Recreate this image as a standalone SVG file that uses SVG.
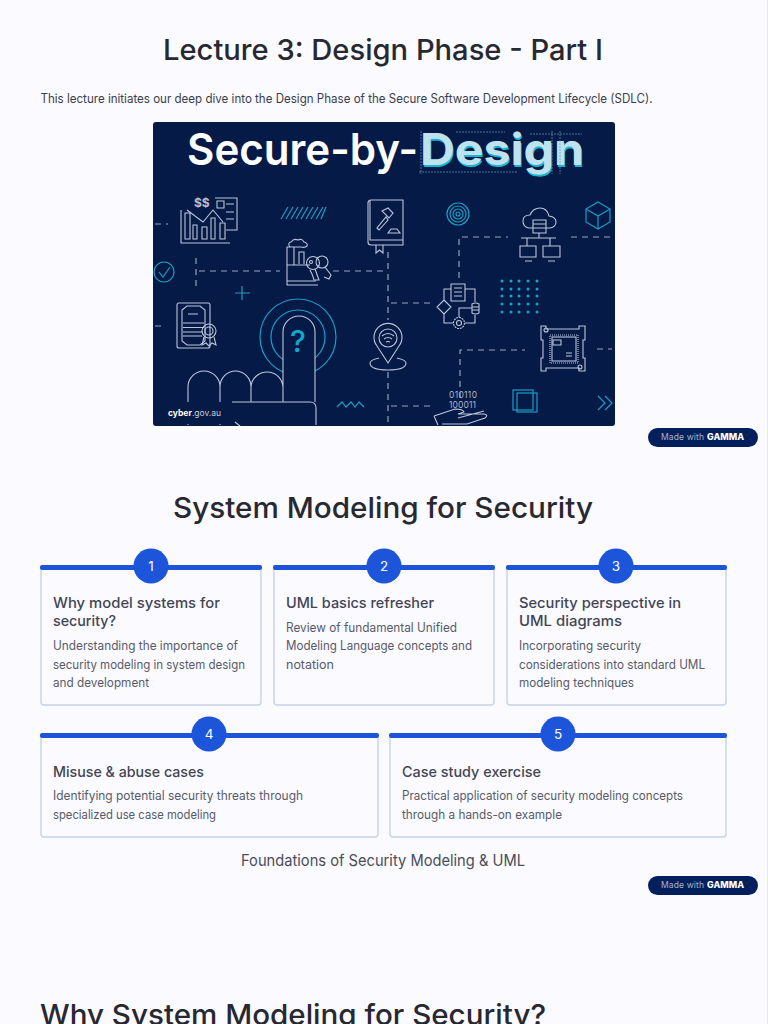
<svg xmlns="http://www.w3.org/2000/svg" width="768" height="1024" viewBox="0 0 768 1024">
<style>
text{font-family:"Inter","Noto Sans","Liberation Sans",sans-serif}
.h1{font-size:29px;fill:#272831;text-anchor:middle;font-weight:500}
.t{font-size:14.5px;fill:#434554;font-weight:500}
.b{font-size:12.6px;fill:#585a69}
.n{font-size:13.5px;fill:#fff;text-anchor:middle}
.card{fill:#fafaff;stroke:#c6d2e8;stroke-width:1.4}
.bar{fill:#1c55d9}
.wl{fill:none;stroke:#bcc5d8;stroke-width:1.1}
.wd{fill:none;stroke:#98a3bb;stroke-width:1.2;stroke-dasharray:6 5}
.tl{fill:none;stroke:#1a9ec4;stroke-width:1.2}
.badge{fill:#03205c}
.bt{font-size:8.5px;fill:#aab3c8}
.bg{font-size:8.5px;fill:#fff;font-weight:800}
</style>
<rect width="768" height="1024" fill="#fafaff"/>
<rect x="767" width="1" height="1024" fill="#e8e8ef"/>
<text class="h1" x="383" y="60" textLength="440" lengthAdjust="spacingAndGlyphs">Lecture 3: Design Phase - Part I</text>
<text x="40.500" y="103" font-size="12.5" fill="#3c3e4c" textLength="612" lengthAdjust="spacingAndGlyphs">This lecture initiates our deep dive into the Design Phase of the Secure Software Development Lifecycle (SDLC).</text>
<g id="poster">
<rect x="153" y="122" width="462" height="304" rx="3" fill="#051a47"/>
<text x="187" y="165" font-size="44" font-weight="600" fill="#fff" textLength="231" lengthAdjust="spacingAndGlyphs">Secure-by-</text>
<text x="421" y="167" font-size="44" font-weight="700" fill="#19b5d2" textLength="164" lengthAdjust="spacingAndGlyphs">Design</text>
<text x="420" y="165" font-size="44" font-weight="700" fill="#bfe3ec" textLength="164" lengthAdjust="spacingAndGlyphs">Design</text>
<path d="M421 131V174M419 172H518M456 132H505M552 131V174M560 131V174M530 134H582" fill="none" stroke="#5f9fc0" stroke-width=".7" stroke-dasharray="2 1"/>
<path class="wd" d="M155 224H168M196 258V288M199 271H280M333 271H388M388 252V320M388 372V425M391 303H430M391 406H430M459 278V237H508M571 237H611M460 398V350H525M597 349H612M155 326H166"/>
<!-- chart -->
<path class="wl" d="M181 210V243H230M185 213V239H190V213ZM193 225V239H197V225ZM202 227V239H207V227ZM211 218V239H215V218ZM220 223V239H225V223ZM187 210L203 222L213 210L223 222M215 198H237V230H226M217 201H224V208H217ZM226 204H234M226 212H234M226 219H234"/>
<text x="194" y="207" font-size="12" font-weight="700" fill="#b4bed2">$$</text>
<!-- hatch -->
<path class="tl" stroke-width="1.4" d="M281 219L288 207M286 219L293 207M291 219L298 207M296 219L303 207M301 219L308 207M306 219L313 207M311 219L318 207M316 219L323 207M321 219L326 207"/>
<!-- check -->
<circle class="tl" cx="164" cy="272" r="10"/><path class="tl" d="M159 272L163 277L170 267"/>
<!-- factory -->
<path class="wl" d="M287 265V247H294V265M299 264V252H304V264M287 265H310M287 265V285H318M287 281H316M290 247q-3-4 1-5q3-4 7-2q4-2 6 2q4 1 3 4q-2 2-6 1h-9"/>
<circle class="wl" cx="322" cy="262" r="6"/><path class="wl" d="M325 267L331 275L329 279L324 277"/>
<circle class="wl" cx="313" cy="263" r="6.500" fill="#051a47"/><circle class="wl" cx="311" cy="262" r="1.500"/><path class="wl" d="M315 269L319 280H314L312 274L310 270"/>
<!-- book -->
<path class="wl" d="M368 203q0-3 3-3H403V245H371q-3 0-3-3ZM370 200V240H403M376 245V253L379.500 250L383 253V245"/>
<path class="wl" d="M377 228L379 230L388 220L386 217ZM382 211L388 208L393 213L389 218ZM388 233H400L397 229H391Z"/>
<!-- bullseye -->
<circle class="tl" cx="458" cy="214" r="11"/><circle class="tl" cx="458" cy="214" r="8"/><circle class="tl" cx="458" cy="214" r="5"/><circle class="tl" cx="458" cy="214" r="2"/>
<!-- cloud -->
<path class="wl" d="M529 228q-6-1-6-7t7-6q3-7 10-7t9 8q7 1 7 6t-6 6h-21ZM533 220H546V233H533ZM533 224H546M533 228H546M539 233V238M521 238H556M527 238V246M550 238V246M520 246H536V257H520ZM543 246H560V257H543ZM525 261H532M548 261H555"/>
<!-- cube -->
<path class="tl" d="M598 202L610 209V222L598 229L586 222V209ZM586 209L598 216L610 209M598 216V229"/>
<!-- certificate -->
<path class="wl" d="M177 305q0-2 2-2H208q2 0 2 2V346q0 2-2 2H179q-2 0-2-2ZM182 310L187 306H200L205 310V341L200 345H187L182 341ZM188 314H198M183 323H204M183 327.500H204M183 332H203M183 336H202"/>
<circle class="wl" cx="209" cy="331" r="7" fill="#051a47"/><circle class="wl" cx="209" cy="331" r="4"/><path class="wl" d="M204 337L202 345L206 343L209 346L212 343L216 345L214 337"/>
<!-- plus -->
<path class="tl" d="M242 286V300M235 293H250"/>
<!-- finger -->
<circle class="tl" cx="298" cy="337" r="38"/><circle class="tl" cx="298" cy="337" r="27"/>
<path d="M283 408V332a16 16 0 0 1 32 0V408Z" fill="#051a47" stroke="none"/>
<path class="wl" stroke-width="1.400" d="M188 402V387a16 16 0 0 1 32 0V402M220 387a15.500 16 0 0 1 31 0V402M251 387a16 16 0 0 1 32 2V402M283 402V332a16 16 0 0 1 32 0V402M232 402H310q6 0 6 6V425M188 425V424M220 425V424M235 422L240 426"/>
<text x="298" y="352" font-size="30" font-weight="500" fill="#12a7cd" text-anchor="middle">?</text>
<text x="168" y="416" font-size="8.500" font-weight="700" fill="#fff">cyber<tspan font-weight="400" fill="#c8cfdc">.gov.au</tspan></text>
<path class="tl" d="M337 407L342 402L346 407L351 402L355 407L359 402L364 407"/>
<!-- pin -->
<path class="wl" d="M379 358q-9 2-9 5q0 7 18 7t18-7q0-3-9-5"/><path class="wl" d="M388 363L377 346a14 14 0 1 1 22 0Z" fill="#051a47"/><circle class="wl" cx="388" cy="338" r="9"/><path class="wl" d="M382 336q6-5 12 0M384 339q4-3 8 0M386 342q2-1 4 0"/>
<!-- workflow -->
<path class="wl" d="M451 284H465V301H451ZM454 288H462M454 292H462M454 296H462M451 289H444V300M465 289H475V302M472 304q3.500-2 7 0V313q-3.500 2-7 0ZM472 307H479M472 310H479M444 300L451 307L444 314L437 307ZM444 314V323H453M465 323H475V315M459 317V308H472"/>
<circle class="wl" cx="459" cy="323" r="5.500" stroke-dasharray="2 .8"/><circle class="wl" cx="459" cy="323" r="2.500"/>
<!-- dots -->
<g fill="#14a5c4"><circle cx="502" cy="281" r="1.500"/><circle cx="511" cy="281" r="1.500"/><circle cx="519" cy="281" r="1.500"/><circle cx="528" cy="281" r="1.500"/><circle cx="537" cy="281" r="1.500"/><circle cx="502" cy="289" r="1.500"/><circle cx="511" cy="289" r="1.500"/><circle cx="519" cy="289" r="1.500"/><circle cx="528" cy="289" r="1.500"/><circle cx="537" cy="289" r="1.500"/><circle cx="502" cy="296" r="1.500"/><circle cx="511" cy="296" r="1.500"/><circle cx="519" cy="296" r="1.500"/><circle cx="528" cy="296" r="1.500"/><circle cx="537" cy="296" r="1.500"/><circle cx="502" cy="304" r="1.500"/><circle cx="511" cy="304" r="1.500"/><circle cx="519" cy="304" r="1.500"/><circle cx="528" cy="304" r="1.500"/><circle cx="537" cy="304" r="1.500"/><circle cx="502" cy="312" r="1.500"/><circle cx="511" cy="312" r="1.500"/><circle cx="519" cy="312" r="1.500"/><circle cx="528" cy="312" r="1.500"/><circle cx="537" cy="312" r="1.500"/></g>
<!-- chip -->
<path class="wl" d="M541 326H546V329H579V326H585V340H583V358H585V371H579V368H546V371H541V358H543V340H541Z"/>
<rect class="wl" x="550" y="335" width="28" height="28" stroke-width="1.600" stroke-dasharray="1 1"/><rect class="wl" x="552" y="337" width="24" height="24"/><path class="wl" d="M553 340H561V345H553ZM566 356H572M566 353H572"/>
<circle class="wl" cx="546" cy="330" r="2"/><circle class="wl" cx="580" cy="367" r="2"/>
<!-- binary -->
<text x="449" y="398" font-size="8.500" fill="#a9b5cb" textLength="28">010110</text>
<text x="449" y="408" font-size="8.500" fill="#a9b5cb" textLength="27">100011</text>
<path class="wl" d="M434 416L455 409q8 0 9 3l-6 2h14l12 0q5 1 1 4l-18 6H442M438 425L434 416M458 418L484 411"/>
<!-- squares -->
<rect class="tl" x="513" y="390" width="20" height="20"/><rect class="tl" x="517" y="393" width="20" height="19"/>
<path class="tl" d="M598 396L605 403L598 410M605 396L612 403L605 410"/>
</g>
<g id="badge1"><rect class="badge" x="648" y="428" width="110" height="19" rx="9.500"/><text class="bt" x="661" y="440" textLength="43">Made with</text><text class="bg" x="707" y="440" textLength="37" lengthAdjust="spacingAndGlyphs">GAMMA</text></g>
<text class="h1" x="383" y="518" textLength="420" lengthAdjust="spacingAndGlyphs">System Modeling for Security</text>
<g id="card1"><rect class="card" x="41" y="566" width="220" height="139" rx="3"/><rect class="bar" x="40" y="565" width="222" height="5" rx="2"/><circle class="bar" cx="151" cy="566" r="17.500"/><text class="n" x="151" y="571">1</text>
<text class="t" x="53" y="608" textLength="167" lengthAdjust="spacingAndGlyphs">Why model systems for</text><text class="t" x="53" y="626" textLength="63" lengthAdjust="spacingAndGlyphs">security?</text>
<text class="b" x="53" y="650" textLength="185" lengthAdjust="spacingAndGlyphs">Understanding the importance of</text><text class="b" x="53" y="669" textLength="192" lengthAdjust="spacingAndGlyphs">security modeling in system design</text><text class="b" x="53" y="687" textLength="96" lengthAdjust="spacingAndGlyphs">and development</text></g>
<g id="card2"><rect class="card" x="274" y="566" width="220" height="139" rx="3"/><rect class="bar" x="273" y="565" width="222" height="5" rx="2"/><circle class="bar" cx="384" cy="566" r="17.500"/><text class="n" x="384" y="571">2</text>
<text class="t" x="286" y="608" textLength="148" lengthAdjust="spacingAndGlyphs">UML basics refresher</text>
<text class="b" x="286" y="632" textLength="171" lengthAdjust="spacingAndGlyphs">Review of fundamental Unified</text><text class="b" x="286" y="650" textLength="186" lengthAdjust="spacingAndGlyphs">Modeling Language concepts and</text><text class="b" x="286" y="669" textLength="48" lengthAdjust="spacingAndGlyphs">notation</text></g>
<g id="card3"><rect class="card" x="507" y="566" width="219" height="139" rx="3"/><rect class="bar" x="506" y="565" width="221" height="5" rx="2"/><circle class="bar" cx="616" cy="566" r="17.500"/><text class="n" x="616" y="571">3</text>
<text class="t" x="519" y="608" textLength="162" lengthAdjust="spacingAndGlyphs">Security perspective in</text><text class="t" x="519" y="626" textLength="103" lengthAdjust="spacingAndGlyphs">UML diagrams</text>
<text class="b" x="519" y="650" textLength="122" lengthAdjust="spacingAndGlyphs">Incorporating security</text><text class="b" x="519" y="669" textLength="186" lengthAdjust="spacingAndGlyphs">considerations into standard UML</text><text class="b" x="519" y="687" textLength="115" lengthAdjust="spacingAndGlyphs">modeling techniques</text></g>
<g id="card4"><rect class="card" x="41" y="734" width="337" height="103" rx="3"/><rect class="bar" x="40" y="733" width="339" height="5" rx="2"/><circle class="bar" cx="209" cy="734" r="17.500"/><text class="n" x="209" y="739">4</text>
<text class="t" x="53" y="777" textLength="151" lengthAdjust="spacingAndGlyphs">Misuse &amp; abuse cases</text>
<text class="b" x="53" y="800" textLength="250" lengthAdjust="spacingAndGlyphs">Identifying potential security threats through</text><text class="b" x="53" y="819" textLength="163" lengthAdjust="spacingAndGlyphs">specialized use case modeling</text></g>
<g id="card5"><rect class="card" x="390" y="734" width="336" height="103" rx="3"/><rect class="bar" x="389" y="733" width="338" height="5" rx="2"/><circle class="bar" cx="558" cy="734" r="17.500"/><text class="n" x="558" y="739">5</text>
<text class="t" x="402" y="777" textLength="139" lengthAdjust="spacingAndGlyphs">Case study exercise</text>
<text class="b" x="402" y="800" textLength="281" lengthAdjust="spacingAndGlyphs">Practical application of security modeling concepts</text><text class="b" x="402" y="819" textLength="160" lengthAdjust="spacingAndGlyphs">through a hands-on example</text></g>
<text x="383" y="866" font-size="15.500" fill="#4a4c5a" text-anchor="middle" textLength="284" lengthAdjust="spacingAndGlyphs">Foundations of Security Modeling &amp; UML</text>
<g id="badge2"><rect class="badge" x="648" y="876" width="110" height="19" rx="9.500"/><text class="bt" x="661" y="888" textLength="43">Made with</text><text class="bg" x="707" y="888" textLength="37" lengthAdjust="spacingAndGlyphs">GAMMA</text></g>
<text x="40" y="1025" font-size="29" font-weight="500" fill="#272831" textLength="506" lengthAdjust="spacingAndGlyphs">Why System Modeling for Security?</text>
</svg>
